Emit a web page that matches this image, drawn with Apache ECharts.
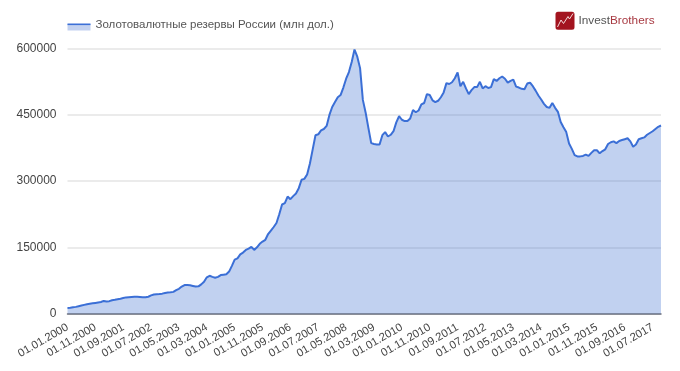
<!DOCTYPE html>
<html><head><meta charset="utf-8">
<style>html,body{margin:0;padding:0;background:#fff}#c{width:680px;height:371px}</style>
<script src="https://cdn.jsdelivr.net/npm/echarts@6/dist/echarts.min.js"></script>
</head><body><div id="c"></div>
<script>
const seriesName = 'Золотовалютные резервы России (млн дол.)';
const startYear = 2000;
const y2000 = [12500,13000,14000,15000,16500,18000,19500,21000,22000,23000,24000,25000];
const y2001 = [26000,28500,27000,28000,30000,31000,32500,33500,35000,36500,37000,37500];
const y2002 = [38000,38000,37500,37000,37000,38000,41000,43000,43500,44000,45000,46500];
const y2003 = [47500,48000,49000,53000,56000,61000,64500,64500,64000,62500,61000,61500];
const y2004 = [66000,72000,82000,85500,83000,81000,83000,87000,88000,89000,95000,108000];
const y2005 = [122000,125000,134000,138000,144000,147000,151000,144000,150000,158000,163000,167000];
const y2006 = [180000,188000,196000,205000,225000,247000,250000,265000,259000,266000,272000,284000];
const y2007 = [303000,305000,315000,340000,372000,404000,406000,415000,418000,425000,450000,468000];
const y2008 = [479000,490000,495000,512000,532000,547000,570000,598000,582000,556000,484000,455000];
const y2009 = [420000,386000,384000,383000,383000,404000,411000,401000,405000,413000,433000,447000];
const y2010 = [439000,436000,436000,442000,461000,456000,460000,474000,477000,497000,495000,483000];
const y2011 = [479000,482000,490000,501000,522000,520000,524000,533000,546000,515000,525000,510000];
const y2012 = [497000,506000,513000,513000,525000,510000,515000,511000,513000,531000,527000,533000];
const y2013 = [537000,532000,523000,527000,530000,514000,512000,509000,508000,521000,523000,515000];
const y2014 = [505000,494000,485000,475000,468000,466000,477000,466000,457000,434000,422000,411000];
const y2015 = [385000,373000,359000,356000,356000,357000,360000,357000,364000,370000,370000,363000];
const y2016 = [368000,372000,384000,388000,390000,386000,391000,393000,395000,397000,390000,378000];
const y2017 = [383000,395000,397000,399000,405000,409000,413000,418000,423000,426000];
const values = [].concat(y2000,y2001,y2002,y2003,y2004,y2005,y2006,y2007,y2008,y2009,y2010,y2011,y2012,y2013,y2014,y2015,y2016,y2017);
const categories = values.map((_, i) => {
  const m = i % 12 + 1;
  return '01.' + (m < 10 ? '0' + m : m) + '.' + (startYear + Math.floor(i / 12));
});
const font = '"Liberation Sans", Arial, sans-serif';
const chart = echarts.init(document.getElementById('c'), null, {renderer: 'canvas'});
chart.setOption({
  animation: false,
  backgroundColor: '#fff',
  grid: {left: 67.5, right: 19, top: 48.7, bottom: 57.5},
  legend: {
    left: 67.5, top: 19, padding: 0, itemWidth: 23, itemHeight: 9, itemGap: 5, selectedMode: false,
    icon: 'rect',
    itemStyle: {color: 'rgba(0,0,0,0)', borderWidth: 0},
    lineStyle: {width: 0},
    textStyle: {fontFamily: font, fontSize: 11.5, color: '#555'}
  },
  xAxis: {
    type: 'category', boundaryGap: false, data: categories,
    axisTick: {show: false},
    axisLine: {lineStyle: {color: '#6b6f7c', width: 1.5}},
    axisLabel: {interval: 9, rotate: 30, margin: 13, fontFamily: font, fontSize: 11.2, color: '#444', hideOverlap: false}
  },
  yAxis: {
    type: 'value', min: 0, max: 600000, interval: 150000,
    axisLine: {show: false}, axisTick: {show: false},
    axisLabel: {margin: 11, fontFamily: font, fontSize: 12, color: '#444', formatter: v => String(v)},
    splitLine: {lineStyle: {color: '#e4e4e4', width: 1.5}}
  },
  series: [{
    name: seriesName, type: 'line', data: values, showSymbol: false, symbol: 'none',
    lineStyle: {color: '#3b6fd6', width: 2},
    itemStyle: {color: '#3b6fd6'},
    areaStyle: {color: 'rgba(51,102,204,0.3)', opacity: 1},
    z: 3
  }],
  graphic: [
    {type: 'rect', shape: {x: 67.5, y: 24, width: 23, height: 6.5}, style: {fill: '#c2d1f0'}, z: 100},
    {type: 'rect', shape: {x: 67.5, y: 23.5, width: 23, height: 1.6}, style: {fill: '#3b6fd6'}, z: 101},
    {type: 'rect', shape: {x: 555.5, y: 11.7, width: 19, height: 18, r: 2.5}, style: {fill: '#a3141f'}, z: 100},
    {type: 'polyline', shape: {points: [[557.5, 27], [561, 20], [563.5, 23.5], [568, 16.5], [569.5, 19], [573, 13.5]]},
      style: {stroke: '#f3dcdc', lineWidth: 1, fill: null}, z: 101},
    {type: 'text', x: 578.5, y: 21, z: 100, style: {
      text: '{a|Invest}{b|Brothers}', verticalAlign: 'middle',
      rich: {
        a: {fontFamily: font, fontSize: 11.8, fill: '#555', color: '#555'},
        b: {fontFamily: font, fontSize: 11.8, fill: '#a83a42', color: '#a83a42'}
      }
    }}
  ]
});
</script></body></html>
